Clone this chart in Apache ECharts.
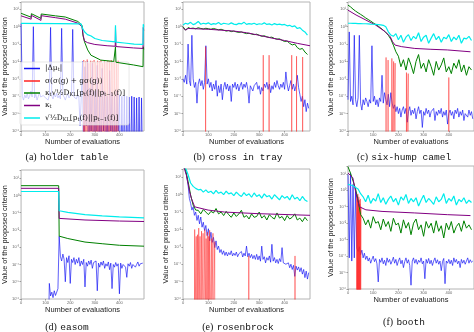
<!DOCTYPE html>
<html><head><meta charset="utf-8">
<script src="https://cdn.jsdelivr.net/npm/echarts@6/dist/echarts.min.js"></script>
<style>html,body{margin:0;padding:0;background:#fff}#c{width:474px;height:332px}</style>
</head><body><div id="c"></div><script>
const Z = 1e-9; // "zero" (below the log axis)
// ---------- (a) holder table ----------
const blueA = [1.5,1e-4,6e-5,1.2e-4,8e-5,1.5e-4,7e-5,1e-4,2e-4,9e-5,
 1.0,8e-5,1.3e-4,6e-5,1e-4,1.6e-4,9e-5,7e-5,1.1e-4,1.4e-4,
 8e-5,1e-4,6e-5,1.2e-4,0.9,1e-4,7e-5,1.3e-4,9e-5,1.5e-4,
 8e-5,1.1e-4,7e-5,0.8,1.2e-4,9e-5,6e-5,1e-4,1.4e-4,8e-5,
 1e-4,1.3e-4,0.7,9e-5,1.1e-4,7e-5,1.2e-4,9e-5,2e-6,1e-4,
 1e-2,Z,5e-3,2e-6,1e-2,Z,3e-4,1e-6,8e-3,Z,
 2e-4,1e-6,6e-3,Z,1e-4,Z,4e-3,1e-6,2e-4,Z,
 1e-4,Z,3e-3,1e-6,1.5e-4,Z,1e-4,Z,2e-4,1e-6,
 1.2e-4,Z,1e-4,Z,1.1e-4,Z,1e-4,Z,9e-5,Z,
 1e-4,Z,9e-5,Z,8e-5,Z,9e-5,Z,8e-5,Z];
const redAx = [255,262,269,276,283,290,297,304,311,318,325,332,339,346,353,360,367,374,381,388,395];
const redAy = [1.2e-2,1e-2,1.3e-2,8e-3,1.1e-2,1e-2,1.2e-2,9e-3,1.1e-2,1e-2,1.2e-2,8e-3,1e-2,9e-3,1.1e-2,1e-2,1.2e-2,9e-3,1e-2,8e-3,1.1e-2];
const greenAx = [0,41,42,81,82,140,180,231,248,252,258,271,284,324,377,383,384,386,457,496,497,499];
const greenAy = [5.9,3.5,5.6,3.0,5.4,4.2,3.6,2.0,1.2,0.3,0.135,0.046,0.023,0.012,0.01,0.0095,0.07,0.009,0.0063,0.005,0.07,0.05];
const purpleAx = [0,41,42,81,82,140,180,231,248,252,258,271,300,350,383,384,386,457,496,497,499];
const purpleAy = [4.2,2.7,4.5,2.3,4.3,3.3,2.7,1.6,1.0,0.35,0.15,0.12,0.095,0.08,0.075,0.9,0.072,0.06,0.056,0.9,0.6];
const cyanAx = [0,150,244,250,258,270,285,300,330,383,384,386,420,460,496,497,499];
const cyanAy = [1.55,1.5,1.45,0.8,0.51,0.35,0.29,0.21,0.16,0.135,1.2,0.13,0.115,0.1,0.095,1.4,1.0];
// ---------- (b) cross in tray ----------
const blueB = [1e-3,6.3e-4,1.6e-3,5e-4,0.1,8e-4,4e-4,0.32,1e-3,3.2e-4,
 6.3e-4,4e-5,5e-4,1e-3,4e-4,8e-4,2.5e-4,6.3e-4,0.08,5e-4,
 1e-3,3.2e-4,6.3e-4,2e-4,5e-4,2.5e-4,8e-4,1e-4,4e-4,1.6e-4,
 5e-4,6.3e-5,3.2e-4,6.3e-4,2.5e-4,5e-4,2e-4,4e-4,5e-5,5e-4,
 3.2e-4,6.3e-4,2.5e-4,5e-4,2e-4,4e-4,6.3e-4,2.5e-4,5e-4,3.2e-4,
 6.3e-4,2.5e-4,4e-5,4e-4,5e-4,2e-4,4e-4,3.2e-4,6.3e-4,2.5e-4,
 4e-4,1.3e-4,3.2e-4,2e-4,5e-4,3.2e-4,6.3e-4,2.5e-4,5e-4,1.6e-4,
 4e-4,2.5e-4,6.3e-4,3.2e-4,8e-4,4e-4,2.5e-4,5e-4,3.2e-4,6.3e-4,
 2.5e-4,2.5e-3,5e-4,2e-4,4e-4,8e-4,2.5e-4,5e-4,2e-4,4e-4,
 1.6e-3,3.2e-4,1.3e-4,5e-5,1e-4,2.5e-5,6.3e-5,1.3e-5,4e-5,2e-5];
const redBx = [89,316,339,428,447,471];
const redBy = [0.07,0.023,0.023,0.023,0.02,0.018];
const greenB = [1,0.63,0.89,0.79,0.83,0.76,0.87,0.79,0.74,0.81,
 0.76,0.71,0.79,0.72,0.66,0.71,0.63,0.56,0.6,0.52,
 0.56,0.5,0.47,0.5,0.44,0.4,0.42,0.38,0.35,0.37,
 0.32,0.28,0.3,0.26,0.24,0.25,0.21,0.19,0.2,0.166,
 0.14,0.15,0.11,0.089,0.1,0.063,0.05,0.056,0.035,0.025];
const purpleBx = [0,10,20,100,200,250,300,350,400,450,500];
const purpleBy = [0.89,0.63,0.79,0.71,0.56,0.45,0.32,0.22,0.16,0.11,0.08];
const cyanB = [1.26,1.58,1.41,1.78,1.32,1.51,2.0,1.38,1.58,1.45,
 1.66,1.32,1.51,1.41,1.74,1.35,1.58,1.48,1.38,1.66,
 1.41,1.32,1.55,1.45,1.82,1.35,1.51,1.41,1.58,1.32,
 1.48,1.38,1.66,1.35,1.45,1.26,1.51,1.32,1.41,1.26,
 1.35,1.12,1.2,1,1.12,0.79,0.89,0.63,0.5,0.33];
// ---------- (c) six-hump camel ----------
const blueC = [6.3e-5,0.5,5e-5,1e-4,3.2e-5,0.32,6.3e-5,2.5e-5,8e-5,0.32,
 4e-5,1.6e-5,6.3e-5,3.2e-5,8e-5,5e-5,2.5e-5,6.3e-5,4e-5,0.08,
 5e-5,1e-4,3.2e-5,6.3e-5,2.5e-5,8e-5,5e-5,1.6e-3,4e-5,1.6e-4,
 6.3e-5,3.2e-5,1.3e-4,2.5e-5,1.6e-4,4e-5,2e-5,3.2e-5,1.3e-5,2.5e-5,
 1e-5,2e-5,6.3e-6,1.6e-5,2.5e-5,1e-5,2e-5,3.2e-6,1.3e-5,2.5e-5,
 8e-6,1.6e-5,1e-5,2e-5,5e-6,1.3e-5,2.5e-5,1e-5,1.6e-5,1.6e-6,
 1.3e-5,8e-6,2e-5,1e-5,1.6e-5,6.3e-6,1.3e-5,1e-5,2e-5,4e-6,
 1.3e-5,8e-6,1.6e-5,1e-5,2e-5,6.3e-6,1.3e-5,8e-6,1.6e-5,2.5e-6,
 1e-5,1.6e-5,8e-6,1.3e-5,5e-6,1.6e-5,1e-5,2e-5,6.3e-6,1.3e-5,
 8e-6,1.6e-5,4e-6,1e-5,1.3e-5,6.3e-6,1.6e-5,8e-6,1.3e-5,5e-6];
const redCx = [151,159,174,181,187,232,239,400];
const redCy = [0.017,0.012,0.015,0.01,0.008,2.3e-3,2e-3,1.2e-3];
const greenC = [17.4,13.8,10.2,7.9,6.3,5.1,4.1,3.2,2.6,2.1,
 1.66,1.35,1.07,0.83,0.63,0.47,0.32,0.19,0.087,0.036,
 0.02,0.005,0.0126,0.0032,0.016,0.0063,0.002,0.01,0.025,0.004,
 0.008,0.0025,0.0126,0.005,0.0016,0.01,0.0032,0.0063,0.016,0.0025,
 0.005,0.002,0.008,0.004,0.0126,0.0025,0.0063,0.0016,0.005,0.0032];
const purpleCx = [0,32,71,110,148,168,177,187,213,265,329,394,486];
const purpleCy = [8.9,4.7,2.4,1.23,0.51,0.26,0.135,0.087,0.071,0.056,0.05,0.046,0.036];
const cyanC = [1.58,1.58,1.55,1.55,1.51,1.51,1.48,1.48,1.45,1.41,
 1.38,1.35,1.32,1.26,1.2,1,0.51,0.33,0.28,0.4,
 0.178,0.32,0.126,0.25,0.35,0.16,0.28,0.2,0.45,0.14,
 0.25,0.32,0.11,0.22,0.4,0.178,0.28,0.126,0.25,0.2,
 0.35,0.14,0.25,0.178,0.32,0.11,0.22,0.2,0.28,0.16];
// ---------- (d) easom ----------
const blueD = [Z,8e-6,1.5e-6,2.5e-6,1.2e-6,3e-6,1.6e-6,2.5e-6,4e-6,4.4e-3,
 3e-4,1.6e-4,4e-4,2e-4,1e-5,2.5e-4,1.3e-4,3.2e-4,8e-6,2e-4,
 1.3e-4,2.5e-4,1e-4,2e-4,1.2e-4,2.5e-4,8e-5,1.6e-4,1e-4,2e-4,
 5e-6,1.3e-4,8e-5,1.6e-4,1e-4,1.8e-4,6e-5,1.3e-4,1e-4,1.6e-4,
 3e-6,1.2e-4,7e-5,1.4e-4,9e-5,1.6e-4,6e-5,1.1e-4,8e-5,1.4e-4,
 5e-5,1.2e-4,4e-6,1e-4,7e-5,1.3e-4,8e-5,1.1e-4,2e-6,1.2e-4,
 6e-5,1e-4,1.3e-4,7e-5,1.8e-5,1.1e-4,8e-5,1.3e-4,6e-5,1e-4,
 1.2e-4,7e-5,1e-4,1.4e-4,8e-5,1.1e-4,9e-5,1.2e-4];
const greenDx = [0,153,155,190,260,330,400,500];
const greenDy = [3.7,3.7,4.4e-3,3.2e-3,2e-3,1.6e-3,1.3e-3,1.15e-3];
const purpleDx = [0,153,155,260,400,500];
const purpleDy = [2.6,2.6,0.047,0.038,0.033,0.031];
const cyanDx = [0,153,155,190,260,330,400,500];
const cyanDy = [1.7,1.7,0.13,0.105,0.078,0.065,0.058,0.051];
// ---------- (e) rosenbrock ----------
const blueE = [44,35,27,22,3.7,0.62,0.32,0.13,0.2,0.065,
 0.1,0.033,0.065,0.021,0.052,0.0135,0.026,0.0087,0.017,0.0044,
 0.011,0.0022,0.0069,0.0018,0.0035,9e-4,0.0022,7e-4,1.1e-3,4.7e-4,
 7e-4,3.7e-4,5.9e-4,3.2e-4,5e-4,3e-4,4.7e-4,3.5e-4,5.9e-4,3e-4,
 4.3e-4,3.2e-4,5e-4,2.7e-4,4e-4,3.1e-4,5.4e-4,2.6e-4,4.3e-4,3e-4,
 1.1e-3,2.7e-4,4.3e-4,2.4e-4,3.7e-4,2.1e-4,3.2e-4,1.9e-4,3.7e-4,1.8e-4,
 3e-4,1.5e-4,1.1e-3,1.9e-4,2.7e-4,1.2e-4,2.4e-4,1.7e-4,3e-4,1.3e-4,
 1.4e-3,1.5e-4,2.4e-4,1.2e-4,1.9e-4,1.1e-4,2.1e-4,1.4e-4,9e-4,1.2e-4,
 1.5e-4,1e-4,7.8e-5,1.2e-4,6.3e-5,1e-4,5e-5,8.6e-5,2e-5,7.8e-5,
 4.6e-5,7e-5,3.7e-5,6.3e-5,2.7e-5,5e-5,1.7e-5,4e-5,1.4e-5,3.3e-5];
const redEx = [46,52,57,62,67,73,79,86,91,96,101,105,112,118,125,259,441];
const redEy = [0.01,0.004,0.005,0.012,0.004,0.008,0.006,0.01,0.003,0.007,0.004,0.009,0.003,0.006,0.002,3e-4,3e-4];
const greenE = [55,27,5.8,0.95,0.25,0.13,0.126,0.079,0.14,0.1,
 0.071,0.11,0.089,0.16,0.079,0.1,0.063,0.11,0.071,0.05,
 0.089,0.056,0.079,0.126,0.05,0.063,0.04,0.079,0.05,0.056,
 0.1,0.045,0.063,0.035,0.071,0.05,0.04,0.089,0.045,0.056,
 0.032,0.063,0.04,0.05,0.079,0.035,0.045,0.028,0.05,0.032];
const purpleEx = [0,13,26,33,46,99,164,296,500];
const purpleEy = [55,14,1.5,0.62,0.2,0.13,0.1,0.081,0.065];
const cyanE = [60,35,14,4.7,3.0,2.3,1.9,2.0,1.41,1.9,
 1.32,1.58,1.12,1.78,1.2,1.41,1,1.58,1.12,1.26,
 0.89,1.41,1,0.79,1.32,0.89,1.12,0.71,1.26,0.79,
 1,0.63,1.12,0.76,0.89,0.56,1,0.71,0.5,0.89,
 0.63,0.79,0.5,1,0.56,0.71,0.45,0.79,0.5,0.4];
// ---------- (f) booth ----------
const blueF = [9,7.8e-5,11,5e-5,2.3,7.8e-5,1.2,3e-4,1.9e-4,3.7e-4,
 1.2e-4,2.3e-4,7.8e-5,1.5e-4,6.3e-5,1e-4,5e-5,7.8e-5,3.7e-5,6.3e-5,
 1e-4,4.6e-5,7e-5,3.4e-5,2.7e-6,6.3e-5,4.2e-5,7.8e-5,3.4e-5,5.6e-5,
 2.7e-5,7.8e-5,4.2e-5,6.3e-5,3.2e-5,5e-5,8.6e-5,3.7e-5,6.3e-5,2.7e-5,
 5e-5,7.8e-5,3.4e-5,5.6e-5,2e-5,4.6e-5,7.8e-5,3.7e-5,6e-5,2.7e-5,
 1.7e-6,5e-5,7.8e-5,3.7e-5,6.3e-5,3.2e-5,5.6e-5,4.2e-5,7.8e-5,3.4e-5,
 5e-5,4.2e-6,6.3e-5,3.7e-5,7.2e-5,3.4e-5,5.6e-5,2.7e-5,5e-5,7.8e-5,
 3.7e-5,6e-5,3.2e-5,5e-5,1.3e-5,4.6e-5,7.2e-5,2.1e-6,5e-5,3.7e-5,
 6.3e-5,3.4e-5,5.6e-5,2.7e-5,7.8e-5,4.2e-5,6.3e-5,3.4e-5,5e-5,2e-5,
 6.3e-5,3.7e-5,5.6e-5,3.2e-5,5e-5,7.8e-5,3.7e-5,6e-5,4.2e-5,5e-5];
const redFx = [35,37,39,41,43,45,47,49,51];
const redFy = [0.5,0.3,0.6,0.2,0.4,0.25,0.15,0.3,0.1];
const greenF = [27,11,3.7,1.2,0.25,0.033,0.02,0.0079,0.016,0.005,
 0.025,0.01,0.0126,0.004,0.018,0.0063,0.0126,0.0032,0.02,0.0079,
 0.01,0.0025,0.016,0.005,0.011,0.002,0.01,0.018,0.004,0.0079,
 0.0016,0.0126,0.005,0.01,0.0025,0.014,0.0032,0.007,0.00126,0.01,
 0.004,0.0126,0.0025,0.0063,0.01,0.0032,0.014,0.005,0.0079,0.004];
const purpleFx = [0,19,32,45,71,135,265,394,486];
const purpleFy = [11.3,5.8,0.62,0.1,0.065,0.052,0.042,0.033,0.029];
const cyanF = [2.3,2.1,1.9,1.5,1.2,0.62,0.4,0.2,0.5,0.16,
 0.32,0.22,0.63,0.18,0.35,0.14,0.28,0.45,0.2,0.32,
 0.126,0.4,0.25,0.56,0.16,0.32,0.2,0.35,0.11,0.25,
 0.5,0.18,0.32,0.22,0.14,0.4,0.2,0.28,0.63,0.16,
 0.32,0.22,0.45,0.126,0.28,0.2,0.35,0.16,0.25,0.18];
// ---------- labels ----------
const seriesNames = ['|Δμ|','σ(σ(g) + gσ(g))','κ√DKL','κ','√DKL'];
const captions = [['(a)','holder table'],['(b)','cross in tray'],['(c)','six-hump camel'],['(d)','easom'],['(e)','rosenbrock'],['(f)','booth']];
const xTicks = [0,100,200,300,400];
const yName = 'Value of the proposed criterion';
const xName = 'Number of evaluations';

// ---------- builders ----------
const seq = (vals, step, x0) => vals.map((v,i)=>[x0 + i*step, v]);
const xy = (xs, ys) => xs.map((x,i)=>[x, ys[i]]);
const spikes = (xs, ys) => xs.flatMap((x,i)=>[[x,Z],[x,ys[i]],[x,Z]]);

const panelData = [
 {blue:seq(blueA,5,0), red:spikes(redAx,redAy), green:xy(greenAx,greenAy), purple:xy(purpleAx,purpleAy), cyan:xy(cyanAx,cyanAy)},
 {blue:seq(blueB,5,0), red:spikes(redBx,redBy), green:seq(greenB,10,0), purple:xy(purpleBx,purpleBy), cyan:seq(cyanB,10,0)},
 {blue:seq(blueC,5,0), red:spikes(redCx,redCy), green:seq(greenC,10,0), purple:xy(purpleCx,purpleCy), cyan:seq(cyanC,10,0)},
 {blue:seq(blueD,5,110), red:[], green:xy(greenDx,greenDy), purple:xy(purpleDx,purpleDy), cyan:xy(cyanDx,cyanDy)},
 {blue:seq(blueE,5,0), red:spikes(redEx,redEy), green:seq(greenE,10,0), purple:xy(purpleEx,purpleEy), cyan:seq(cyanE,10,0)},
 {blue:seq(blueF,5,0), red:spikes(redFx,redFy), green:seq(greenF,10,0), purple:xy(purpleFx,purpleFy), cyan:seq(cyanF,10,0)}
];
const layout = [
 {grid:{left:19,top:2,width:125,height:129}, ymax:26.3, cap:[67,157], xGap:5},
 {grid:{left:183,top:2,width:127,height:129}, ymax:26.3, cap:[238,157], xGap:5},
 {grid:{left:348,top:2,width:128,height:129}, ymax:26.3, cap:[404,157], xGap:5},
 {grid:{left:19,top:170,width:125,height:129}, ymax:30, cap:[67,327], xGap:6},
 {grid:{left:183,top:169,width:127,height:130}, ymax:30, cap:[238,327], xGap:6},
 {grid:{left:348,top:166,width:128,height:123}, ymax:30, cap:[404,322], xGap:6}
];
const style = {
 blue:{c:'#1414f5', w:0.8, o:0.85, z:2},
 red:{c:'#ff2222', w:0.8, o:0.6, z:3},
 green:{c:'#008000', w:1, o:1, z:4},
 purple:{c:'#820082', w:1, o:1, z:5},
 cyan:{c:'#00ecec', w:1.2, o:1, z:6}
};
const keys = ['blue','red','green','purple','cyan'];
const supMap = {'-':'⁻','0':'⁰','1':'¹','2':'²','3':'³','4':'⁴','5':'⁵','6':'⁶','7':'⁷','8':'⁸','9':'⁹'};
const fmtY = v => { const e = Math.log10(v); const r = Math.round(e); if (Math.abs(e-r) > 1e-6) return ''; return '10' + String(r).split('').map(ch=>supMap[ch]).join(''); };

const grids=[], xAxes=[], yAxes=[], series=[], graphics=[];
layout.forEach((L,i)=>{
 grids.push(Object.assign({show:true, borderColor:'#b4b4b4', borderWidth:1, backgroundColor:'#fff'}, L.grid));
 xAxes.push({type:'value', gridIndex:i, min:0, max:500, interval:100,
  name:xName, nameLocation:'middle', nameGap:L.xGap,
  nameTextStyle:{fontFamily:'Liberation Sans', fontSize:7.5, color:'#222', verticalAlign:'top'},
  axisLine:{show:false}, splitLine:{show:false},
  axisTick:{show:true, length:1.5, lineStyle:{color:'#999'}},
  axisLabel:{show:true, fontSize:4, color:'#666', margin:2, showMaxLabel:false,
   formatter:v=> xTicks.indexOf(v)>=0 ? String(v) : ''}});
 yAxes.push({type:'log', logBase:10, gridIndex:i, min:1e-6, max:L.ymax,
  name:yName, nameLocation:'middle', nameGap:11.5,
  nameTextStyle:{fontFamily:'Liberation Sans', fontSize:7.3, color:'#222'},
  axisLine:{show:false}, splitLine:{show:false}, minorTick:{show:false},
  axisTick:{show:true, length:1.5, lineStyle:{color:'#999'}},
  axisLabel:{fontSize:4, color:'#666', margin:2, formatter:fmtY}});
 keys.forEach((k,j)=>{
  const s = style[k];
  series.push({type:'line', name:seriesNames[j], xAxisIndex:i, yAxisIndex:i,
   data:panelData[i][k], showSymbol:false, symbol:'none', clip:true, animation:false, z:s.z,
   lineStyle:{color:s.c, width:s.w, opacity:s.o}, itemStyle:{color:s.c}});
 });
 const cp = captions[i];
 graphics.push({type:'text', x:L.cap[0], y:L.cap[1], z:100,
  style:{text:'{p|'+cp[0]+'} {m|'+cp[1]+'}', align:'center', verticalAlign:'middle',
   rich:{p:{fontFamily:'Liberation Serif', fontSize:10, fill:'#111'}, m:{fontFamily:'Liberation Mono', fontSize:9.5, fill:'#111'}}}});
});

const legendRich = {
 '|Δμ|':'{n||Δμ}{s|t}{n||}',
 'σ(σ(g) + gσ(g))':'{n|σ(σ(g) + gσ(g))}',
 'κ√DKL':'{n|κ}{s|t}{n|√½D}{s|KL}{n|[p}{s|t}{n|(f)||p}{s|t−1}{n|(f)]}',
 'κ':'{n|κ}{s|t}',
 '√DKL':'{n|√½D}{s|KL}{n|[p}{s|t}{n|(f)||p}{s|t−1}{n|(f)]}'
};
const chart = echarts.init(document.getElementById('c'), null, {renderer:'canvas'});
chart.setOption({
 animation:false, backgroundColor:'#fff',
 grid:grids, xAxis:xAxes, yAxis:yAxes, series:series, graphic:graphics,
 legend:{data:seriesNames, orient:'vertical', left:20, top:62, selectedMode:false,
  icon:'rect', itemWidth:16, itemHeight:1.5, itemGap:5, padding:[3,4,3,4],
  backgroundColor:'rgba(255,255,255,0.7)', borderColor:'#d8d8d8', borderWidth:0.6, borderRadius:2,
  formatter:n=>legendRich[n],
  textStyle:{rich:{n:{fontFamily:'DejaVu Serif', fontSize:7.4, lineHeight:8, color:'#111'}, s:{fontFamily:'DejaVu Serif', fontSize:5, lineHeight:8, verticalAlign:'bottom', color:'#111'}}}}
});
</script></body></html>
